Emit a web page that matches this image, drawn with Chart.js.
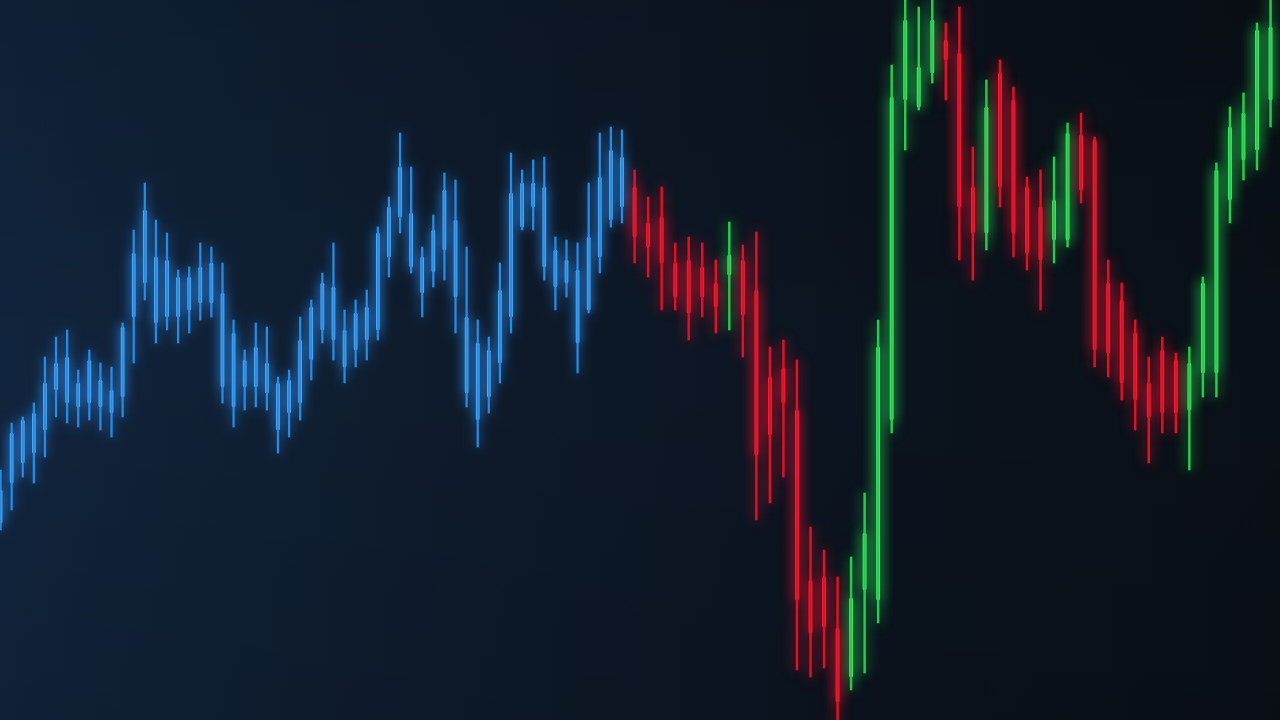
<!DOCTYPE html>
<html>
<head>
<meta charset="utf-8">
<script src="https://cdn.jsdelivr.net/npm/chart.js@4.4.1/dist/chart.umd.min.js"></script>
<style>
  html, body { margin: 0; padding: 0; background: #0b1119; }
  #wrap { width: 1280px; height: 720px; position: relative; }
</style>
</head>
<body>
<div id="wrap"><canvas id="c"></canvas></div>
<script>
// ---- Blue (background, earlier) candles ----
const blueHigh  = [250,297,303,317,363,383,390,350,370,357,353,397,490,537,500,487,450,453,477,473,457,400,370,397,393,343,350,403,420,447,477,410,420,430,493,523,587,553,473,505,547,540,473,400,383,457,567,550,560,563,483,480,477,537,587,593,590];
const blueLow   = [190,210,243,237,263,303,297,293,300,290,283,303,357,420,377,390,377,387,400,403,317,293,310,313,310,267,283,300,340,377,360,337,353,360,380,443,487,447,403,433,440,387,313,273,307,337,387,490,490,440,410,423,347,407,447,493,497];
const blueOpen  = [197,237,257,267,290,330,317,313,317,313,307,323,403,437,397,403,403,410,417,417,333,313,333,333,327,290,307,317,360,390,380,353,370,380,390,463,503,453,427,448,470,423,327,300,323,357,403,493,513,453,433,437,377,410,463,500,513];
const blueClose = [230,287,300,307,337,357,363,337,360,340,330,393,467,510,463,460,443,443,453,457,427,387,360,373,357,337,340,380,413,437,433,390,407,413,487,513,553,507,463,490,530,500,403,377,370,430,527,537,537,533,470,460,450,483,543,570,563];

// ---- Red / green (foreground, later) candles ----
const rgHigh  = [550,523,533,477,483,477,460,498,475,488,373,380,360,193,170,143,163,227,400,655,725,713,725,697,713,573,640,660,633,543,550,563,597,607,583,460,437,400,363,383,367,373,443,557,613,627,697,725];
const rgLow   = [457,443,410,410,380,403,387,390,363,200,217,243,50,43,52,-5,30,47,97,287,570,610,637,620,460,440,470,513,463,450,410,457,473,517,353,343,320,290,257,287,287,250,323,323,497,540,550,593];
const rgOpen  = [533,497,503,457,460,453,437,445,460,430,343,352,310,140,143,92,43,130,120,300,620,613,647,680,667,533,487,647,620,533,513,480,480,585,580,437,420,387,337,370,360,310,347,347,520,560,570,620];
const rgClose = [483,473,457,423,407,423,413,465,405,265,285,317,120,87,93,18,122,187,373,623,700,653,700,660,513,487,613,533,487,467,460,520,587,530,370,367,337,320,303,307,307,357,437,550,593,607,690,693];

const COLORS = {
  blueWick: '#2b8ae0', blueBody: '#66c0ff', blueGlow: 'rgba(40,145,255,0.95)',
  redWick: '#dc1329', redBody: '#ff2b42', redGlow: 'rgba(255,20,45,0.95)',
  greenWick: '#28cc50', greenBody: '#55f77a', greenGlow: 'rgba(40,235,90,0.95)'
};

function wickData(hi, lo, keep) {
  const out = [];
  hi.forEach((h, i) => { if (keep(i)) out.push({ x: i, y: [lo[i], h] }); });
  return out;
}
function bodyData(op, cl, keep) {
  const out = [];
  op.forEach((o, i) => { if (keep(i)) out.push({ x: i, y: [o, cl[i]] }); });
  return out;
}
const all = () => true;
const isRed = i => rgClose[i] < rgOpen[i];
const isGreen = i => rgClose[i] >= rgOpen[i];

const datasets = [
  { data: wickData(blueHigh, blueLow, all), xAxisID: 'xB', backgroundColor: COLORS.blueWick, barThickness: 1.6, glow: 11, glowColor: COLORS.blueGlow, blurPx: 0.5 },
  { data: bodyData(blueOpen, blueClose, all), xAxisID: 'xB', backgroundColor: COLORS.blueBody, barThickness: 3, borderRadius: 1.5, borderSkipped: false, glow: 11, glowColor: COLORS.blueGlow, blurPx: 0.5 },
  { data: wickData(rgHigh, rgLow, isRed), xAxisID: 'xR', backgroundColor: COLORS.redWick, barThickness: 1.8, glow: 13, glowColor: COLORS.redGlow },
  { data: bodyData(rgOpen, rgClose, isRed), xAxisID: 'xR', backgroundColor: COLORS.redBody, barThickness: 3.2, borderRadius: 1.6, borderSkipped: false, glow: 13, glowColor: COLORS.redGlow },
  { data: wickData(rgHigh, rgLow, isGreen), xAxisID: 'xR', backgroundColor: COLORS.greenWick, barThickness: 1.8, glow: 13, glowColor: COLORS.greenGlow },
  { data: bodyData(rgOpen, rgClose, isGreen), xAxisID: 'xR', backgroundColor: COLORS.greenBody, barThickness: 3.2, borderRadius: 1.6, borderSkipped: false, glow: 13, glowColor: COLORS.greenGlow }
];

const bgPlugin = {
  id: 'bg',
  beforeDraw(chart) {
    const { ctx, width, height } = chart;
    ctx.save();
    const g = ctx.createLinearGradient(0, 0, width, 0);
    g.addColorStop(0, '#11243d');
    g.addColorStop(0.35, '#0e1b2c');
    g.addColorStop(0.7, '#0b131e');
    g.addColorStop(1, '#0a1017');
    ctx.fillStyle = g;
    ctx.fillRect(0, 0, width, height);
    const v = ctx.createLinearGradient(0, 0, 0, height);
    v.addColorStop(0, 'rgba(0,0,0,0.12)');
    v.addColorStop(0.5, 'rgba(0,0,0,0)');
    v.addColorStop(1, 'rgba(0,0,0,0.1)');
    ctx.fillStyle = v;
    ctx.fillRect(0, 0, width, height);
    ctx.restore();
  }
};

const glowPlugin = {
  id: 'glow',
  beforeDatasetDraw(chart, args) {
    const ds = chart.data.datasets[args.index];
    const ctx = chart.ctx;
    ctx.save();
    ctx.shadowColor = ds.glowColor;
    ctx.shadowBlur = ds.glow;
    ctx.shadowOffsetX = 0;
    ctx.shadowOffsetY = 0;
    if (ds.blurPx) ctx.filter = 'blur(' + ds.blurPx + 'px)';
  },
  afterDatasetDraw(chart) {
    chart.ctx.restore();
  }
};

new Chart(document.getElementById('c'), {
  type: 'bar',
  data: { datasets },
  plugins: [bgPlugin, glowPlugin],
  options: {
    responsive: true,
    maintainAspectRatio: false,
    animation: false,
    layout: { padding: 0 },
    grouped: false,
    plugins: { legend: { display: false }, tooltip: { enabled: false } },
    scales: {
      xB: { type: 'linear', axis: 'x', min: -0.05, max: 115.3, display: false, offset: false },
      xR: { type: 'linear', axis: 'x', min: -46.9, max: 47.7, display: false, offset: false },
      y: { type: 'linear', min: 0, max: 720, display: false }
    }
  }
});
</script>
</body>
</html>
